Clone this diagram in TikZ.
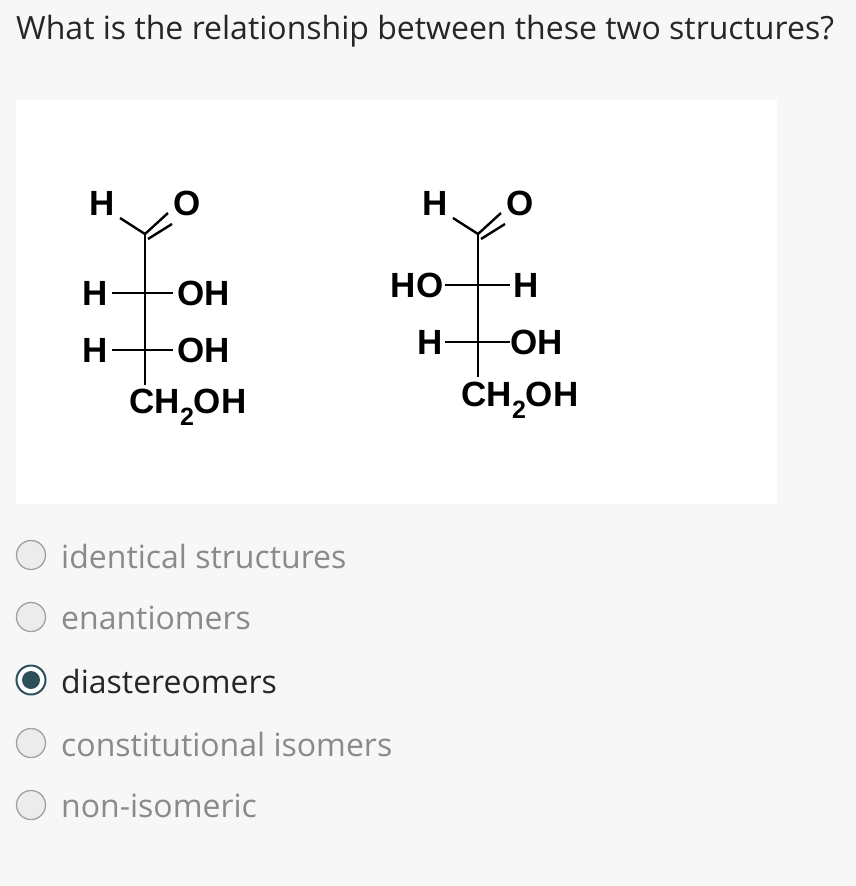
\documentclass[tikz,border=0pt]{standalone}
\usepackage{fontspec}
\setmainfont{Open Sans}
\newfontfamily\chemfont{Liberation Sans}
\definecolor{bg}{HTML}{F7F7F7}
\definecolor{opt}{HTML}{8A8A8A}
\definecolor{sel}{HTML}{2C4F5A}
\newcommand{\subtwo}{\raisebox{-0.35em}{\fontsize{25}{25}\selectfont 2}}
\begin{document}
\begin{tikzpicture}[x=1pt,y=-1pt,
  atom/.style={font=\chemfont\bfseries\fontsize{35}{35}\selectfont,inner sep=0pt},
  bond/.style={line width=2.4pt},
  radio/.style={circle,draw=opt!80,fill=gray!15,line width=1.3pt,minimum size=29pt,inner sep=0pt},
  opttext/.style={anchor=west,font=\fontsize{32}{32}\selectfont,text=opt,inner sep=0pt}]
\fill[bg] (0,0) rectangle (856,886);
\useasboundingbox (0,0) rectangle (856,886);
\fill[white] (16,100) rectangle (777,504);
\node[anchor=west,inner sep=0pt,font=\fontsize{32}{32}\selectfont,text=black!85] (title) at (16,31) {What is the relationship between these two structures?};
% left structure
\coordinate (c1) at (145,234);
\coordinate (b1) at (145,385);
\node[atom] (h0) at (102,203) {H};
\node[atom] (o0) at (187,203) {O};
\node[atom] (h1) at (95,293) {H};
\node[atom] (oh1) at (204,293) {OH};
\node[atom] (h2) at (95,350) {H};
\node[atom] (oh2) at (204,350) {OH};
\node[atom] (ch) at (188,407) {CH\subtwo OH};
\draw[bond] (120,218) -- (c1);
\draw[bond] (c1) -- (168,213);
\draw[bond] (148,239) -- (172,224);
\draw[bond] (c1) -- (b1);
\draw[bond] (112,293) -- (173,293);
\draw[bond] (112,350) -- (173,350);
% right structure
\coordinate (d1) at (478,234);
\node[atom] (rh0) at (435,203) {H};
\node[atom] (ro0) at (520,203) {O};
\node[atom] (rho1) at (417,285) {HO};
\node[atom] (rh1) at (526,285) {H};
\node[atom] (rh2) at (430,342) {H};
\node[atom] (roh2) at (537,342) {OH};
\node[atom] (rch) at (520,400) {CH\subtwo OH};
\draw[bond] (453,218) -- (d1);
\draw[bond] (d1) -- (501,213);
\draw[bond] (481,239) -- (505,224);
\draw[bond] (d1) -- (478,377);
\draw[bond] (445,285) -- (510,285);
\draw[bond] (445,342) -- (510,342);
% options
\node[radio] (r1) at (31,555) {};
\node[opttext] (t1) at (61,556) {identical structures};
\node[radio] (r2) at (31,617) {};
\node[opttext] (t2) at (61,618) {enantiomers};
\node[circle,draw=sel,fill=white,line width=2pt,minimum size=29pt,inner sep=0pt] (r3) at (31,680) {};
\fill[sel] (r3) circle (9);
\node[opttext,text=black!85] (t3) at (61,681) {diastereomers};
\node[radio] (r4) at (31,743) {};
\node[opttext] (t4) at (61,744) {constitutional isomers};
\node[radio] (r5) at (31,805) {};
\node[opttext] (t5) at (61,806) {non-isomeric};
\end{tikzpicture}
\end{document}
